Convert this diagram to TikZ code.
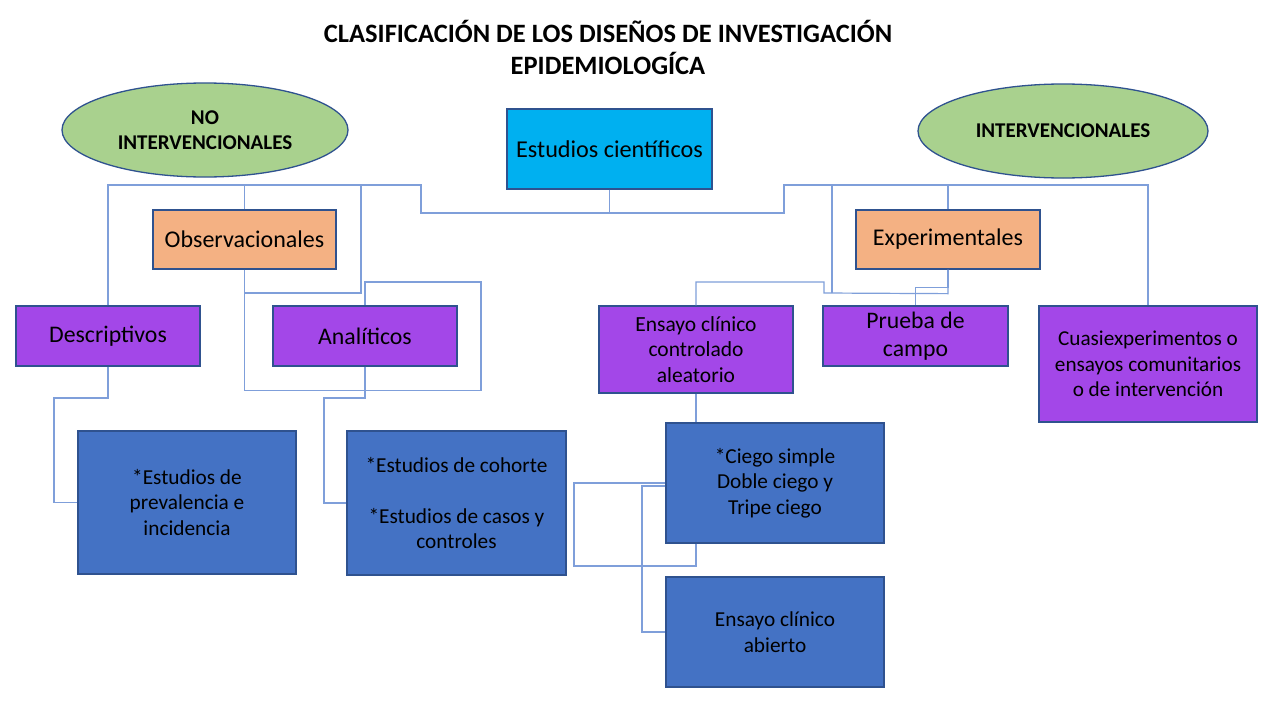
\documentclass[tikz,border=0pt]{standalone}
\usepackage{fontspec}
\setmainfont{Carlito}
\usetikzlibrary{shapes.geometric}
\definecolor{cCiel}{HTML}{00B0F0}
\definecolor{cNaranja}{HTML}{F4B183}
\definecolor{cMorado}{HTML}{A347E8}
\definecolor{cAzul}{HTML}{4472C4}
\definecolor{cVerde}{HTML}{A9D18E}
\definecolor{cBorde}{HTML}{2F528F}
\definecolor{cLinea}{HTML}{7F9FDA}
\tikzset{
	caja/.style={draw=cBorde,line width=1.3pt,inner sep=0pt,align=center,text=black},
	elipse/.style={ellipse,draw=cBorde,line width=1.3pt,fill=cVerde,inner sep=0pt,
		minimum width=286pt,minimum height=94pt,align=center,font=\fontsize{21}{25}\selectfont\bfseries},
	conector/.style={draw=cLinea,line width=1.2pt}
}
\begin{document}
\begin{tikzpicture}[x=1pt,y=-1pt]
				\useasboundingbox (0,0) rectangle (1280,720);
				\fill[white] (0,0) rectangle (1280,720);
				% titulo
				\node[font=\fontsize{26.5}{32}\selectfont\bfseries,align=center] (titulo) at (608,47)
					{CLASIFICACIÓN DE LOS DISEÑOS DE INVESTIGACIÓN\\EPIDEMIOLOGÍCA};
				\node[elipse] (noint) at (205,130) {NO\\INTERVENCIONALES};
				\node[elipse,minimum width=290pt] (inter) at (1063,131) {INTERVENCIONALES};
				% cajas
				\node[caja,fill=cCiel,minimum width=205pt,minimum height=80pt,font=\fontsize{24.2}{28}\selectfont] (cient) at (609.5,149) {Estudios científicos};
				\node[caja,fill=cNaranja,minimum width=183pt,minimum height=59pt,font=\fontsize{24}{28}\selectfont] (obs) at (244.5,239.5) {Observacionales};
				\node[caja,fill=cNaranja,minimum width=184pt,minimum height=59pt,font=\fontsize{24}{28}\selectfont] (exp) at (948,239.5) {Experimentales};
				\node[caja,fill=cMorado,minimum width=184pt,minimum height=60pt,font=\fontsize{23.8}{28}\selectfont] (desc) at (108,336) {Descriptivos};
				\node[caja,fill=cMorado,minimum width=184pt,minimum height=60pt,font=\fontsize{23.8}{28}\selectfont] (anal) at (365,336) {Analíticos};
				\node[caja,fill=cMorado,minimum width=194pt,minimum height=87pt,font=\fontsize{21.5}{25.5}\selectfont] (ensayo) at (696,349.5) {Ensayo clínico\\controlado\\aleatorio};
				\node[caja,fill=cMorado,minimum width=185pt,minimum height=60pt,font=\fontsize{23.7}{28}\selectfont] (prueba) at (915.5,336) {Prueba de\\campo};
				\node[caja,fill=cMorado,minimum width=218pt,minimum height=116pt,font=\fontsize{21.2}{25.5}\selectfont] (cuasi) at (1148,364) {Cuasiexperimentos o\\ensayos comunitarios\\o de intervención};
				\node[caja,fill=cAzul,minimum width=218pt,minimum height=143pt,font=\fontsize{21.3}{25.5}\selectfont] (prev) at (187,502.5) {*Estudios de\\prevalencia e\\incidencia};
				\node[caja,fill=cAzul,minimum width=219pt,minimum height=144pt,font=\fontsize{21.3}{25.5}\selectfont] (coh) at (456.5,503) {*Estudios de cohorte\\[25.5pt]*Estudios de casos y\\controles};
				\node[caja,fill=cAzul,minimum width=218pt,minimum height=120pt,font=\fontsize{21.3}{25.5}\selectfont] (ciego) at (775,483) {*Ciego simple\\Doble ciego y\\Tripe ciego};
				\node[caja,fill=cAzul,minimum width=218pt,minimum height=110pt,font=\fontsize{21.3}{25.5}\selectfont] (abierto) at (775,632) {Ensayo clínico\\abierto};
				% puntos de la red
				\coordinate (busI) at (421,185);
				\coordinate (busD) at (784,185);
				\coordinate (nudoI) at (245,293);
				\coordinate (nudoD) at (832,293);
				% conectores izquierda
				\draw[conector] (desc.north) |- (busI) -- ++(0,28) -| (cient.south);
				\draw[conector] (obs.north) -- ++(0,-25);
				\draw[conector] (361,185) |- (nudoI);
				\draw[conector] (obs.south) -- ++(0,121) -| (481,282) -| (anal.north);
				\draw[conector] (desc.south) |- (54,398) |- (prev.west);
				\draw[conector] (anal.south) |- (324,398) |- (coh.west);
				% conectores derecha
				\draw[conector] (cient.south) |- (784,213) -- (busD) -| (cuasi.north);
				\draw[conector] (exp.north) -- ++(0,-25);
				\draw[conector] (exp.south) -- ++(0,24) -- (824,293) -- (824,282) -| (ensayo.north);
				\draw[conector] (nudoD) -- ++(0,-108);
				\draw[conector] (exp.south) -- ++(0,18) -| (prueba.north);
				\draw[conector] (ensayo.south) -- (ensayo.south |- ciego.north);
				\draw[conector] (ensayo.south |- ciego.south) |- (574,566) |- (ciego.west);
				\draw[conector] ([yshift=-3pt]ciego.west) -| (642,560) |- (abierto.west);
			\end{tikzpicture}
\end{document}
